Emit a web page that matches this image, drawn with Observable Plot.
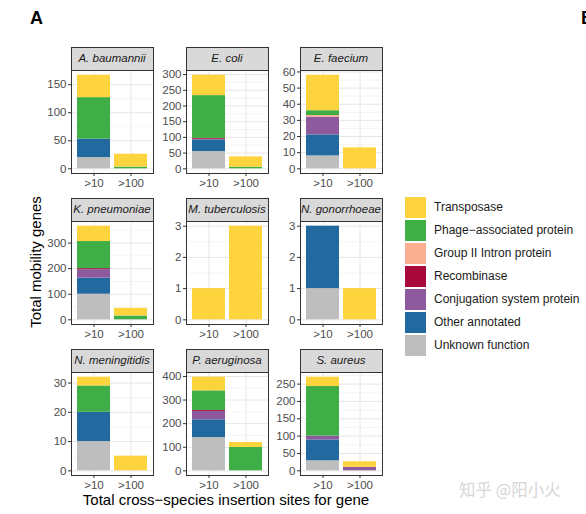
<!DOCTYPE html>
<html><head><meta charset="utf-8">
<script src="https://cdn.jsdelivr.net/npm/d3@7"></script>
<script src="https://cdn.jsdelivr.net/npm/@observablehq/plot@0.6"></script>
<style>
body{margin:0;background:#fff;}
#root{position:relative;width:586px;height:514px;overflow:hidden;font-family:"Liberation Sans",Arial,sans-serif;}
.strip{position:absolute;box-sizing:border-box;background:#D9D9D9;border:1px solid #333;font-style:italic;font-size:11.5px;color:#1A1A1A;text-align:center;white-space:nowrap;}
.abs{position:absolute;white-space:nowrap;}
.sw{position:absolute;width:21px;height:21px;}
.lt{position:absolute;font-size:12px;color:#1A1A1A;white-space:nowrap;line-height:14px;}
</style></head><body><div id="root"></div>
<script>
// ---- data ----
const bins = [">10", ">100"];
const categories = ["Unknown function","Other annotated","Conjugation system protein","Recombinase","Group II Intron protein","Phage\u2212associated protein","Transposase"];
const colors = ["#BEBEBE","#22699F","#8D5B9D","#A6093A","#FBAF92","#3FAE47","#FDD43E"];
const species = ["A. baumannii","E. coli","E. faecium","K. pneumoniae","M. tuberculosis","N. gonorrhoeae","N. meningitidis","P. aeruginosa","S. aureus"];
// values per bin (>10, >100), in category order above (bottom to top of stack)
const aBaumannii   = [[20,33,0,0,0,74,40],[0,0,0,0,0,3,23]];
const eColi        = [[55,37,2,3,0,136,65],[0,0,0,0,0,5,33]];
const eFaecium     = [[8,13,11,0,1,3,22],[0,0,0,0,0,0,13]];
const kPneumoniae  = [[100,63,33,4,0,106,60],[0,0,0,0,0,15,30]];
const mTuberculosis= [[0,0,0,0,0,0,1],[0,0,0,0,0,0,3]];
const nGonorrhoeae = [[1,2,0,0,0,0,0],[0,0,0,0,0,0,1]];
const nMeningitidis= [[10,10,0,0,0,9,3],[0,0,0,0,0,0,5]];
const pAeruginosa  = [[141,75,36,4,0,83,58],[0,0,0,0,0,99,21]];
const sAureus      = [[29,60,11,0,0,143,27],[0,0,10,0,0,0,16]];
const speciesValues = [aBaumannii,eColi,eFaecium,kPneumoniae,mTuberculosis,nGonorrhoeae,nMeningitidis,pAeruginosa,sAureus];
const yTicks = [[0,50,100,150],[0,50,100,150,200,250,300],[0,10,20,30,40,50,60],[0,100,200,300],[0,1,2,3],[0,1,2,3],[0,10,20,30],[0,100,200,300,400],[0,50,100,150,200,250]];
const legendOrder = ["Transposase","Phage\u2212associated protein","Group II Intron protein","Recombinase","Conjugation system protein","Other annotated","Unknown function"];
const yTitle = "Total mobility genes";
const xTitle = "Total cross\u2212species insertion sites for gene";

// ---- layout ----
const root = document.getElementById("root");
const colLeft=[71,186,300], rowTop=[70,221,372];
const PW=82, PH=103, ML=36, MR=1, MT=1, MB=24, SH=23;

species.forEach((sp,i)=>{
  const c=i%3, r=Math.floor(i/3);
  const vals=speciesValues[i];
  const rows=[];
  bins.forEach((b,bi)=>categories.forEach((cat,ci)=>{
    if(vals[bi][ci]>0) rows.push({bin:b,category:cat,value:vals[bi][ci]});
  }));
  const max=d3.max(vals,v=>d3.sum(v));
  const lo=-0.05*max, hi=1.05*max;
  const ticks=yTicks[i];
  const step=ticks[1]-ticks[0];
  const minor=[];
  for(let t=ticks[0]-step/2;t<=hi;t+=step) if(t>=lo) minor.push(t);
  const svg=Plot.plot({
    width: ML+PW+MR, height: MT+PH+MB,
    marginLeft: ML, marginRight: MR, marginTop: MT, marginBottom: MB,
    style:{fontFamily:"Liberation Sans, Arial, sans-serif",fontSize:"11.5px",background:"transparent",overflow:"visible"},
    x:{type:"band",domain:bins,paddingInner:0.1,paddingOuter:0.15,align:0.5},
    y:{domain:[lo,hi]},
    color:{domain:categories,range:colors},
    marks:[
      Plot.ruleY(minor,{stroke:"#EEEEEE",strokeWidth:0.6}),
      Plot.ruleY(ticks,{stroke:"#E6E6E6",strokeWidth:1}),
      Plot.ruleX(bins,{x:d=>d,stroke:"#E6E6E6",strokeWidth:1}),
      Plot.barY(rows,{x:"bin",y:"value",fill:"category"}),
      Plot.frame({stroke:"#333333",strokeWidth:1}),
      Plot.axisY(ticks,{tickSize:3,tickPadding:2,stroke:"#333333",color:"#4D4D4D",label:null}),
      Plot.axisX({tickSize:3,tickPadding:2,stroke:"#333333",color:"#4D4D4D",label:null})
    ]
  });
  svg.style.position="absolute";
  svg.style.left=(colLeft[c]-ML)+"px";
  svg.style.top=(rowTop[r]-MT)+"px";
  root.appendChild(svg);
  const strip=document.createElement("div");
  strip.className="strip";
  strip.style.left=(colLeft[c]-0.5)+"px";
  strip.style.top=(rowTop[r]-SH)+"px";
  strip.style.width=(PW+1)+"px";
  strip.style.height=(SH+0.5)+"px";
  strip.style.lineHeight=(SH-2)+"px";
  strip.textContent=sp;
  root.appendChild(strip);
});

// titles
function addText(txt,css){const d=document.createElement("div");d.className="abs";d.textContent=txt;Object.assign(d.style,css);root.appendChild(d);return d;}
addText("A",{left:"30px",top:"8px",fontSize:"18px",fontWeight:"bold",color:"#000"});
addText("B",{left:"581px",top:"8px",fontSize:"18px",fontWeight:"bold",color:"#000"});
addText(yTitle,{left:"35px",top:"262px",fontSize:"15px",color:"#000",transform:"translate(-50%,-50%) rotate(-90deg)"});
addText(xTitle,{left:"226px",top:"499px",fontSize:"15px",color:"#000",transform:"translate(-50%,-50%)"});

// legend
legendOrder.forEach((name,k)=>{
  const col=colors[categories.indexOf(name)];
  const s=document.createElement("div");s.className="sw";
  s.style.left="405px";s.style.top=(197+23*k)+"px";s.style.background=col;root.appendChild(s);
  const t=document.createElement("div");t.className="lt";
  t.style.left="434px";t.style.top=(200+23*k)+"px";t.textContent=name;root.appendChild(t);
});

// watermark
addText("知乎 @阳小火",{left:"459px",top:"477px",fontSize:"16.5px",color:"#D6D6D6",fontFamily:"'Noto Sans CJK SC',sans-serif"});
</script>
</body></html>
